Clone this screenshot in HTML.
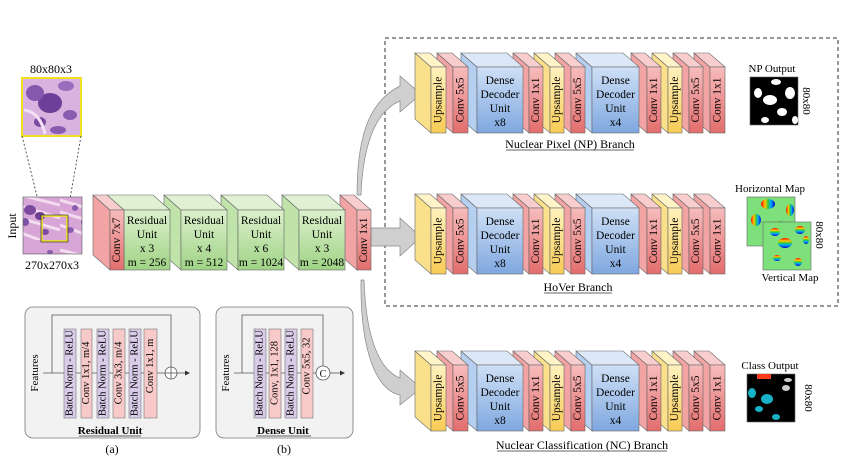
<!DOCTYPE html>
<html><head><meta charset="utf-8"><style>
html,body{margin:0;padding:0;background:#fff;}
svg, svg text{font-family:"Liberation Serif","DejaVu Serif",serif;}
</style></head><body>
<svg width="849" height="465" viewBox="0 0 849 465" xmlns="http://www.w3.org/2000/svg" font-family="Liberation Serif, serif">
<defs>
<linearGradient id="gr" x1="0" y1="0" x2="0" y2="1"><stop offset="0" stop-color="#f7bcbc"/><stop offset="1" stop-color="#e36d6d"/></linearGradient>
<linearGradient id="gg" x1="0" y1="0" x2="0" y2="1"><stop offset="0" stop-color="#dcf0cd"/><stop offset="1" stop-color="#9fd385"/></linearGradient>
<linearGradient id="gb" x1="0" y1="0" x2="0" y2="1"><stop offset="0" stop-color="#cfe0f6"/><stop offset="1" stop-color="#7fa7df"/></linearGradient>
<linearGradient id="gy" x1="0" y1="0" x2="0" y2="1"><stop offset="0" stop-color="#fff2bf"/><stop offset="1" stop-color="#f8cb55"/></linearGradient>
<linearGradient id="gh" x1="0" y1="0" x2="0" y2="1"><stop offset="0" stop-color="#ff0000"/><stop offset=".3" stop-color="#ffcc00"/><stop offset=".5" stop-color="#33cc33"/><stop offset=".7" stop-color="#00aaff"/><stop offset="1" stop-color="#0000cc"/></linearGradient>
<linearGradient id="gv" x1="0" y1="0" x2="1" y2="0"><stop offset="0" stop-color="#ff0000"/><stop offset=".3" stop-color="#ffcc00"/><stop offset=".5" stop-color="#33cc33"/><stop offset=".7" stop-color="#00aaff"/><stop offset="1" stop-color="#0000cc"/></linearGradient>
<pattern id="tis" width="60" height="60" patternUnits="userSpaceOnUse">
<rect width="60" height="60" fill="#d7a6d6"/>
<path d="M0 10 L60 25 M0 20 L60 38 M0 32 L60 50 M0 45 L40 60" stroke="#f3dcef" stroke-width="3"/>
<ellipse cx="30" cy="30" rx="6" ry="5" fill="#7b4aa0"/><ellipse cx="40" cy="36" rx="5" ry="4" fill="#6c3f95"/>
<ellipse cx="25" cy="42" rx="4" ry="4" fill="#7d52a7"/><ellipse cx="10" cy="50" rx="4" ry="3" fill="#8a5cb0"/>
<ellipse cx="50" cy="12" rx="3" ry="2" fill="#8a5cb0"/><ellipse cx="15" cy="28" rx="3" ry="3" fill="#8a5cb0"/>
<ellipse cx="45" cy="52" rx="4" ry="3" fill="#7b4aa0"/>
</pattern>
</defs>

<!-- zoom input -->
<text x="51" y="73" font-size="12" text-anchor="middle">80x80x3</text>
<rect x="22" y="78" width="59" height="58" fill="#d9b3e0"/>
<ellipse cx="50" cy="103" rx="12" ry="10" fill="#6d3f98"/>
<ellipse cx="35" cy="93" rx="9" ry="8" fill="#8557ad"/>
<ellipse cx="40" cy="122" rx="6" ry="5" fill="#7b4aa0"/>
<ellipse cx="70" cy="115" rx="7" ry="5" fill="#8a5cb0"/>
<ellipse cx="66" cy="86" rx="8" ry="5" fill="#9a6cbc"/>
<ellipse cx="58" cy="130" rx="8" ry="4" fill="#8a5cb0"/>
<path d="M24 110 Q40 112 45 134" stroke="#f2e0f5" stroke-width="3" fill="none"/>
<rect x="22" y="78" width="59" height="58" fill="none" stroke="#f0e020" stroke-width="2"/>
<line x1="22" y1="136" x2="42" y2="216" stroke="#333" stroke-width="0.8" stroke-dasharray="2,2"/>
<line x1="81" y1="136" x2="67" y2="216" stroke="#333" stroke-width="0.8" stroke-dasharray="2,2"/>

<!-- input -->
<rect x="23" y="197" width="59" height="57" fill="url(#tis)" stroke="#555" stroke-width="0.6"/>
<rect x="42" y="216" width="25" height="25" fill="none" stroke="#f0e020" stroke-width="1.6"/>
<rect x="41" y="215" width="27" height="27" fill="none" stroke="#222" stroke-width="0.6"/>
<text transform="translate(16,226) rotate(-90)" font-size="12" text-anchor="middle">Input</text>
<text x="52" y="269" font-size="12" text-anchor="middle">270x270x3</text>

<!-- dashed box -->
<rect x="385" y="38" width="453" height="268" fill="none" stroke="#333" stroke-width="1" stroke-dasharray="4,3"/>

<!-- arrows -->
<g fill="#cfcfcf" stroke="#888" stroke-width="0.7">
<path d="M357,195 C357,130 372,100 400,86 L400,76 L421,94 L400,112 L400,101 C378,110 363,140 361,195 Z"/>
<path d="M371,228 L400,228 L400,218 L421,237 L400,256 L400,246 L371,246 Z"/>
<path d="M361,280 L364,280 C366,340 380,370 400,378 L400,370 L421,388 L400,405 L400,395 C376,390 360,350 361,280 Z"/>
</g>

<g stroke="#666" stroke-width="0.6" font-size="11.5">
<g>
<polygon points="357,210 340,195 340,255 357,270" fill="#f2a3a3"/>
<polygon points="357,210 340,195 354,195 371,210" fill="#f8cdcd"/>
<rect x="357" y="210" width="14" height="60" fill="url(#gr)"/>
<text transform="translate(364,240) rotate(-90)" text-anchor="middle" dominant-baseline="central" stroke="none">Conv 1x1</text>
</g>
<g>
<polygon points="299,210 282,195 282,255 299,270" fill="#bfe3a9"/>
<polygon points="299,210 282,195 328,195 345,210" fill="#dff1d2"/>
<rect x="299" y="210" width="46" height="60" fill="url(#gg)"/>
<g stroke="none" text-anchor="middle"><text x="322" y="224">Residual</text><text x="322" y="238">Unit</text><text x="322" y="252">x 3</text><text x="322" y="266">m = 2048</text></g>
</g>
<g>
<polygon points="238,210 221,195 221,255 238,270" fill="#bfe3a9"/>
<polygon points="238,210 221,195 267,195 284,210" fill="#dff1d2"/>
<rect x="238" y="210" width="46" height="60" fill="url(#gg)"/>
<g stroke="none" text-anchor="middle"><text x="261" y="224">Residual</text><text x="261" y="238">Unit</text><text x="261" y="252">x 6</text><text x="261" y="266">m = 1024</text></g>
</g>
<g>
<polygon points="181,210 164,195 164,255 181,270" fill="#bfe3a9"/>
<polygon points="181,210 164,195 210,195 227,210" fill="#dff1d2"/>
<rect x="181" y="210" width="46" height="60" fill="url(#gg)"/>
<g stroke="none" text-anchor="middle"><text x="204" y="224">Residual</text><text x="204" y="238">Unit</text><text x="204" y="252">x 4</text><text x="204" y="266">m = 512</text></g>
</g>
<g>
<polygon points="124,210 107,195 107,255 124,270" fill="#bfe3a9"/>
<polygon points="124,210 107,195 153,195 170,210" fill="#dff1d2"/>
<rect x="124" y="210" width="46" height="60" fill="url(#gg)"/>
<g stroke="none" text-anchor="middle"><text x="147" y="224">Residual</text><text x="147" y="238">Unit</text><text x="147" y="252">x 3</text><text x="147" y="266">m = 256</text></g>
</g>
<g>
<polygon points="110,210 93,195 93,255 110,270" fill="#f2a3a3"/>
<polygon points="110,210 93,195 107,195 124,210" fill="#f8cdcd"/>
<rect x="110" y="210" width="14" height="60" fill="url(#gr)"/>
<text transform="translate(117,240) rotate(-90)" text-anchor="middle" dominant-baseline="central" stroke="none">Conv 7x7</text>
</g>
</g>

<g id="br1" stroke="#666" stroke-width="0.6" font-size="11.5">
<g><polygon points="710,67 694,53 694,119 710,133" fill="#f2a3a3"/><polygon points="710,67 694,53 709,53 725,67" fill="#f8cdcd"/><rect x="710" y="67" width="15" height="66" fill="url(#gr)"/><text transform="translate(717.5,100) rotate(-90)" text-anchor="middle" dominant-baseline="central" stroke="none">Conv 1x1</text></g>
<g><polygon points="689,67 673,53 673,119 689,133" fill="#f2a3a3"/><polygon points="689,67 673,53 687,53 703,67" fill="#f8cdcd"/><rect x="689" y="67" width="14" height="66" fill="url(#gr)"/><text transform="translate(696,100) rotate(-90)" text-anchor="middle" dominant-baseline="central" stroke="none">Conv 5x5</text></g>
<g><polygon points="668,67 652,53 652,119 668,133" fill="#fbe08c"/><polygon points="668,67 652,53 666,53 682,67" fill="#fff3c8"/><rect x="668" y="67" width="14" height="66" fill="url(#gy)"/><text transform="translate(675,100) rotate(-90)" text-anchor="middle" dominant-baseline="central" stroke="none">Upsample</text></g>
<g><polygon points="647,67 631,53 631,119 647,133" fill="#f2a3a3"/><polygon points="647,67 631,53 645,53 661,67" fill="#f8cdcd"/><rect x="647" y="67" width="14" height="66" fill="url(#gr)"/><text transform="translate(654,100) rotate(-90)" text-anchor="middle" dominant-baseline="central" stroke="none">Conv 1x1</text></g>
<g><polygon points="592,67 576,53 576,119 592,133" fill="#b5cff0"/><polygon points="592,67 576,53 623,53 639,67" fill="#dce8f8"/><rect x="592" y="67" width="47" height="66" fill="url(#gb)"/><g stroke="none" text-anchor="middle"><text x="615.5" y="84">Dense</text><text x="615.5" y="98">Decoder</text><text x="615.5" y="112">Unit</text><text x="615.5" y="126">x4</text></g></g>
<g><polygon points="571,67 555,53 555,119 571,133" fill="#f2a3a3"/><polygon points="571,67 555,53 569,53 585,67" fill="#f8cdcd"/><rect x="571" y="67" width="14" height="66" fill="url(#gr)"/><text transform="translate(578,100) rotate(-90)" text-anchor="middle" dominant-baseline="central" stroke="none">Conv 5x5</text></g>
<g><polygon points="550,67 534,53 534,119 550,133" fill="#fbe08c"/><polygon points="550,67 534,53 548,53 564,67" fill="#fff3c8"/><rect x="550" y="67" width="14" height="66" fill="url(#gy)"/><text transform="translate(557,100) rotate(-90)" text-anchor="middle" dominant-baseline="central" stroke="none">Upsample</text></g>
<g><polygon points="529,67 513,53 513,119 529,133" fill="#f2a3a3"/><polygon points="529,67 513,53 527,53 543,67" fill="#f8cdcd"/><rect x="529" y="67" width="14" height="66" fill="url(#gr)"/><text transform="translate(536,100) rotate(-90)" text-anchor="middle" dominant-baseline="central" stroke="none">Conv 1x1</text></g>
<g><polygon points="477,67 461,53 461,119 477,133" fill="#b5cff0"/><polygon points="477,67 461,53 507,53 523,67" fill="#dce8f8"/><rect x="477" y="67" width="46" height="66" fill="url(#gb)"/><g stroke="none" text-anchor="middle"><text x="500" y="84">Dense</text><text x="500" y="98">Decoder</text><text x="500" y="112">Unit</text><text x="500" y="126">x8</text></g></g>
<g><polygon points="453,67 437,53 437,119 453,133" fill="#f2a3a3"/><polygon points="453,67 437,53 452,53 468,67" fill="#f8cdcd"/><rect x="453" y="67" width="15" height="66" fill="url(#gr)"/><text transform="translate(460.5,100) rotate(-90)" text-anchor="middle" dominant-baseline="central" stroke="none">Conv 5x5</text></g>
<g><polygon points="431,67 415,53 415,119 431,133" fill="#fbe08c"/><polygon points="431,67 415,53 430,53 446,67" fill="#fff3c8"/><rect x="431" y="67" width="15" height="66" fill="url(#gy)"/><text transform="translate(438.5,100) rotate(-90)" text-anchor="middle" dominant-baseline="central" stroke="none">Upsample</text></g>
</g>
<use href="#br1" transform="translate(0,141)"/>
<use href="#br1" transform="translate(0,298)"/>

<g font-size="12" text-anchor="middle">
<text x="570" y="148">Nuclear Pixel (NP) Branch</text>
<text x="578" y="291">HoVer Branch</text>
<text x="582" y="449">Nuclear Classification (NC) Branch</text>
</g>
<g stroke="#333" stroke-width="0.7">
<line x1="506" y1="150" x2="634" y2="150"/>
<line x1="544" y1="293" x2="612" y2="293"/>
<line x1="497" y1="451" x2="667" y2="451"/>
</g>

<!-- outputs -->
<text x="772" y="72" font-size="11" text-anchor="middle">NP Output</text>
<rect x="750" y="77" width="48" height="48" fill="#000" stroke="#666" stroke-width="0.6"/>
<g fill="#fff"><ellipse cx="770" cy="100" rx="7" ry="5"/><ellipse cx="790" cy="93" rx="5" ry="6"/><ellipse cx="758" cy="93" rx="4" ry="5"/><ellipse cx="782" cy="112" rx="5" ry="4"/><ellipse cx="765" cy="120" rx="4" ry="3"/><ellipse cx="776" cy="82" rx="5" ry="3"/><ellipse cx="795" cy="120" rx="3" ry="4"/></g>
<text transform="translate(806,101) rotate(90)" font-size="11" text-anchor="middle" dominant-baseline="central">80x80</text>

<text x="770" y="192" font-size="11" text-anchor="middle">Horizontal Map</text>
<rect x="747" y="197" width="48" height="49" fill="#7de07a" stroke="#666" stroke-width="0.6"/>
<g fill="url(#gv)"><ellipse cx="768" cy="204" rx="7" ry="5"/><ellipse cx="756" cy="220" rx="5" ry="6"/><ellipse cx="790" cy="210" rx="4" ry="6"/><ellipse cx="780" cy="225" rx="5" ry="4"/></g>
<rect x="763" y="222" width="48" height="48" fill="#7de07a" stroke="#666" stroke-width="0.6"/>
<g fill="url(#gh)"><ellipse cx="785" cy="243" rx="7" ry="5"/><ellipse cx="775" cy="232" rx="5" ry="4"/><ellipse cx="800" cy="230" rx="5" ry="4"/><ellipse cx="777" cy="258" rx="4" ry="3"/><ellipse cx="798" cy="262" rx="4" ry="4"/><ellipse cx="806" cy="240" rx="3" ry="4"/></g>
<text x="790" y="281" font-size="11" text-anchor="middle">Vertical Map</text>
<text transform="translate(819,235) rotate(90)" font-size="11" text-anchor="middle" dominant-baseline="central">80x80</text>

<text x="770" y="369" font-size="11" text-anchor="middle">Class Output</text>
<rect x="747" y="374" width="48" height="48" fill="#000" stroke="#666" stroke-width="0.6"/>
<rect x="757" y="374" width="14" height="5" fill="#ff3b1a"/>
<g fill="#18b2c8"><ellipse cx="752" cy="393" rx="4" ry="5"/><ellipse cx="767" cy="399" rx="6" ry="5"/><ellipse cx="759" cy="409" rx="4" ry="3"/><ellipse cx="776" cy="417" rx="4" ry="3"/></g>
<g fill="#ccc"><ellipse cx="788" cy="380" rx="4" ry="2"/><ellipse cx="786" cy="388" rx="4" ry="3"/></g>
<text transform="translate(808,398) rotate(90)" font-size="11" text-anchor="middle" dominant-baseline="central">80x80</text>

<!-- Residual unit panel -->
<rect x="25" y="307" width="175" height="131" rx="8" fill="#f2f2f2" stroke="#777" stroke-width="0.8"/>
<g stroke="#555" stroke-width="0.8" fill="none">
<line x1="43" y1="373" x2="165" y2="373"/>
<polyline points="52,373 52,315 171,315 171,367"/>
<circle cx="171" cy="373" r="6" fill="#fff"/>
<line x1="165" y1="373" x2="177" y2="373"/><line x1="171" y1="367" x2="171" y2="379"/>
<line x1="177" y1="373" x2="185" y2="373"/>
</g>
<polygon points="185,370.5 190,373 185,375.5" fill="#333"/>
<text transform="translate(38,373) rotate(-90)" font-size="11" text-anchor="middle">Features</text>
<g stroke="#777" stroke-width="0.6">
<rect x="64" y="329" width="12" height="89" fill="#d8cce8"/>
<rect x="81" y="329" width="11" height="89" fill="#f7c9c9"/>
<rect x="97" y="329" width="12" height="89" fill="#d8cce8"/>
<rect x="113" y="329" width="12" height="89" fill="#f7c9c9"/>
<rect x="129" y="329" width="12" height="89" fill="#d8cce8"/>
<rect x="144" y="329" width="13" height="89" fill="#f7c9c9"/>
</g>
<g font-size="10.5" text-anchor="middle" dominant-baseline="central">
<text transform="translate(70,373) rotate(-90)">Batch Norm - ReLU</text>
<text transform="translate(86.5,373) rotate(-90)">Conv 1x1, m/4</text>
<text transform="translate(103,373) rotate(-90)">Batch Norm - ReLU</text>
<text transform="translate(119,373) rotate(-90)">Conv 3x3, m/4</text>
<text transform="translate(135,373) rotate(-90)">Batch Norm - ReLU</text>
<text transform="translate(150.5,366) rotate(-90)">Conv 1x1, m</text>
</g>
<text x="110" y="434" font-size="11" font-weight="bold" text-anchor="middle">Residual Unit</text>
<line x1="79" y1="436" x2="141" y2="436" stroke="#333" stroke-width="0.7"/>
<text x="112" y="453" font-size="12" text-anchor="middle">(a)</text>

<!-- Dense unit panel -->
<rect x="216" y="307" width="137" height="131" rx="8" fill="#f2f2f2" stroke="#777" stroke-width="0.8"/>
<g stroke="#555" stroke-width="0.8" fill="none">
<line x1="234" y1="373" x2="316" y2="373"/>
<polyline points="242,373 242,315 323,315 323,366"/>
<circle cx="323" cy="373" r="7" fill="#fff"/>
<line x1="330" y1="373" x2="340" y2="373"/>
</g>
<text x="323" y="377" font-size="10" text-anchor="middle">C</text>
<polygon points="340,370.5 345,373 340,375.5" fill="#333"/>
<text transform="translate(229,373) rotate(-90)" font-size="11" text-anchor="middle">Features</text>
<g stroke="#777" stroke-width="0.6">
<rect x="254" y="329" width="12" height="89" fill="#d8cce8"/>
<rect x="269" y="329" width="12" height="89" fill="#f7c9c9"/>
<rect x="285" y="329" width="12" height="89" fill="#d8cce8"/>
<rect x="301" y="329" width="12" height="89" fill="#f7c9c9"/>
</g>
<g font-size="10.5" text-anchor="middle" dominant-baseline="central">
<text transform="translate(260,373) rotate(-90)">Batch Norm - ReLU</text>
<text transform="translate(275,373) rotate(-90)">Conv, 1x1, 128</text>
<text transform="translate(291,373) rotate(-90)">Batch Norm - ReLU</text>
<text transform="translate(307,366) rotate(-90)">Conv 5x5, 32</text>
</g>
<text x="283" y="434" font-size="11" font-weight="bold" text-anchor="middle">Dense Unit</text>
<line x1="256" y1="436" x2="311" y2="436" stroke="#333" stroke-width="0.7"/>
<text x="284" y="453" font-size="12" text-anchor="middle">(b)</text>
</svg>
</body></html>
